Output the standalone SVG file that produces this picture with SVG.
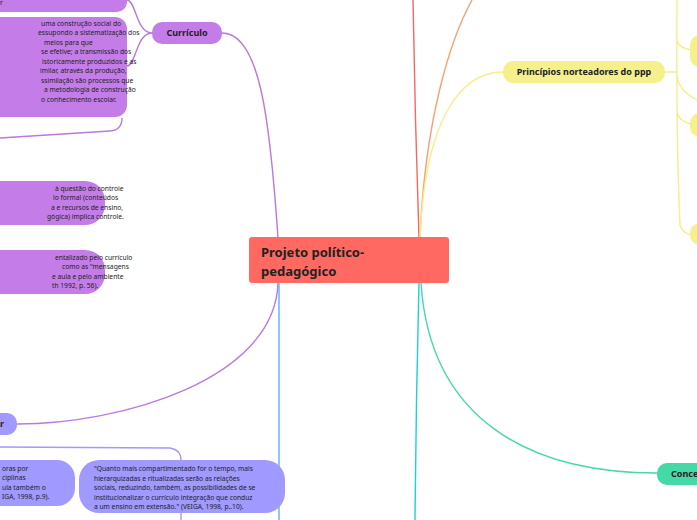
<svg xmlns="http://www.w3.org/2000/svg" width="697" height="520" viewBox="0 0 697 520">
<style>
text{font-family:"Noto Sans","Open Sans",sans-serif;fill:#222}
.s{font-size:6.7px}
.b{font-size:9px;font-weight:bold}
.l{fill:none;stroke-width:1.4}
</style>
<rect width="697" height="520" fill="#fff"/>
<g id="connectors">
<path class="l" stroke="#F26A5E" d="M419 238 Q415 120 413 0"/>
<path class="l" stroke="#F8A070" d="M420 238 C425 120 450 40 472 0"/>
<path class="l" stroke="#F5EE8A" d="M420 238 C425 120 460 72 503 72"/>
<path class="l" stroke="#F5EE8A" d="M665 72 H677 M677 0 Q676 140 680 225 Q682 233 692 235 M677 40 Q678 48 692 50 M677 75 Q678 90 697 100 M677 110 Q678 122 692 124"/>
<path class="l" stroke="#B77AE0" d="M278 238 C270 120 260 33 222 33"/>
<path class="l" stroke="#B77AE0" d="M152 33 C136 33 136 0 127 0 M152 33 C136 33 136 66 127 66 M122 118 Q122 130 110 131 L0 138"/>
<path class="l" stroke="#B77AE0" d="M278 283 C275 380 120 424 17 424"/>
<path class="l" stroke="#A099FF" d="M0 447 L170 448 Q181 450 181 460 V520"/>
<path class="l" stroke="#5BB0F5" d="M279 283 V520"/>
<path class="l" stroke="#1ECFD6" d="M419 283 Q416 400 415 520"/>
<path class="l" stroke="#45D9A7" d="M421 283 C430 420 530 473 657 473"/>
</g>
<g id="center"><rect x="249" y="237" width="200" height="46" rx="3" fill="#FF6961"/>
<text x="261" y="257" style="font-size:13px;font-weight:bold">Projeto político-</text>
<text x="261" y="276" style="font-size:13px;font-weight:bold">pedagógico</text></g>
<g id="principios"><rect x="503" y="61" width="162" height="22" rx="10" fill="#F5F08C"/><text class="b" x="584" y="75" text-anchor="middle">Princípios norteadores do ppp</text></g>
<g id="yblobs" fill="#F5F08C"><rect x="690" y="35" width="20" height="32" rx="10"/><rect x="690" y="113" width="20" height="24" rx="10"/><rect x="690" y="223" width="20" height="22" rx="10"/></g>
<g id="conce"><rect x="657" y="463" width="60" height="22" rx="10" fill="#45D9A7"/><text class="b" x="671" y="477">Conce</text></g>
<g id="curriculo"><rect x="152" y="22" width="70" height="22" rx="10" fill="#C47DE8"/><text class="b" x="187" y="36" text-anchor="middle">Currículo</text></g>
<g id="c1"><rect x="-20" y="-10" width="147" height="22" rx="10" fill="#C47DE8"/><text class="s" x="0" y="5">r</text></g>
<g id="c2"><rect x="-20" y="17" width="147" height="100" rx="12" fill="#C47DE8"/>
<text class="s"><tspan x="41" y="26">uma construção social do</tspan><tspan x="38" y="35">essupondo a sistematização dos</tspan><tspan x="44" y="45">meios para que</tspan><tspan x="41" y="54">se efetive; a transmissão dos</tspan><tspan x="42" y="64">istoricamente produzidos e as</tspan><tspan x="40" y="73">imilar, através da produção,</tspan><tspan x="41" y="83">ssimilação são processos que</tspan><tspan x="44" y="92">a metodologia de construção</tspan><tspan x="41" y="102">o conhecimento escolar.</tspan></text></g>
<g id="c3"><rect x="-20" y="181" width="125" height="44" rx="20" fill="#C47DE8"/>
<text class="s"><tspan x="55" y="191">à questão do controle</tspan><tspan x="53" y="200">lo formal (conteúdos</tspan><tspan x="51" y="210">a e recursos de ensino,</tspan><tspan x="47" y="219">gógica) implica controle.</tspan></text></g>
<g id="c4"><rect x="-20" y="250" width="125" height="44" rx="20" fill="#C47DE8"/>
<text class="s"><tspan x="55" y="260">entalizado pelo currículo</tspan><tspan x="62" y="269">como as "mensagens</tspan><tspan x="52" y="279">e aula e pelo ambiente</tspan><tspan x="52" y="288">th 1992, p. 56).</tspan></text></g>
<g id="r"><rect x="-20" y="413" width="37" height="22" rx="10" fill="#A099FF"/><text class="b" x="0" y="427">r</text></g>
<g id="b1"><rect x="-20" y="460" width="95" height="46" rx="18" fill="#A099FF"/>
<text class="s"><tspan x="2" y="471">oras por</tspan><tspan x="2" y="480">ciplinas</tspan><tspan x="2" y="490">ula também o</tspan><tspan x="2" y="499">IGA, 1998, p.9).</tspan></text></g>
<g id="b2"><rect x="79" y="460" width="206" height="53" rx="20" fill="#A099FF"/>
<text class="s"><tspan x="94" y="471">"Quanto mais compartimentado for o tempo, mais</tspan><tspan x="94" y="481">hierarquizadas e ritualizadas serão as relações</tspan><tspan x="94" y="490">sociais, reduzindo, também, as possibilidades de se</tspan><tspan x="94" y="500">institucionalizar o currículo integração que conduz</tspan><tspan x="94" y="509">a um ensino em extensão." (VEIGA, 1998, p..10).</tspan></text></g>
</svg>
